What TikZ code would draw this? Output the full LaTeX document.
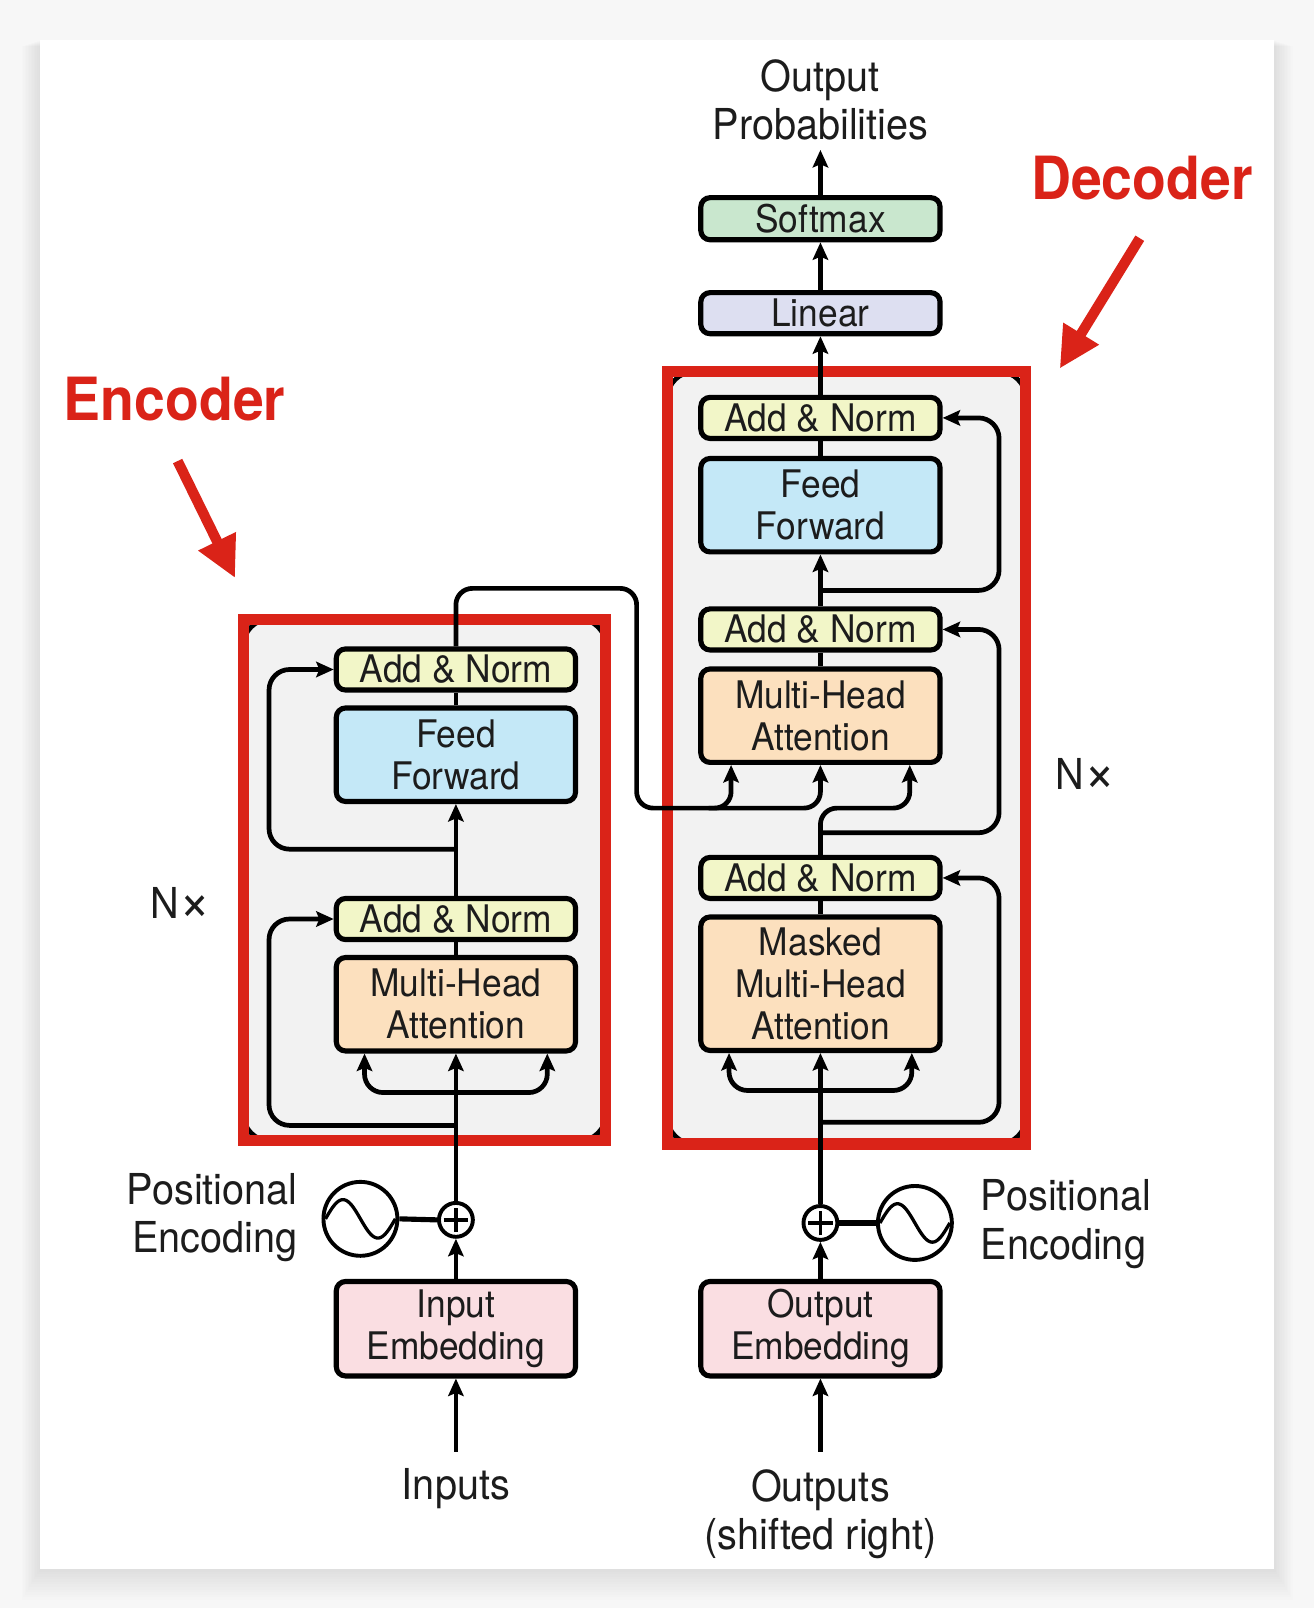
\documentclass[tikz,border=0pt]{standalone}
\usepackage{fontspec}
\setmainfont{TeX Gyre Heros}[FakeStretch=0.93]
\usetikzlibrary{arrows.meta}
\definecolor{redA}{RGB}{218,35,24}
\definecolor{anfill}{RGB}{242,246,200}
\definecolor{fffill}{RGB}{196,232,247}
\definecolor{mhafill}{RGB}{252,224,190}
\definecolor{linfill}{RGB}{221,223,241}
\definecolor{smfill}{RGB}{201,231,206}
\definecolor{embfill}{RGB}{250,222,226}
\definecolor{blockfill}{RGB}{242,242,242}
\definecolor{txt}{RGB}{28,28,28}
\definecolor{pagebg}{RGB}{247,247,247}
\begin{document}
\begin{tikzpicture}[x=1pt,y=-1pt,
  box/.style={draw=black, line width=5pt, rounded corners=9pt, minimum width=233pt, inner sep=0pt, align=center, text=txt, font=\fontsize{37}{41}\selectfont},
  anbox/.style={box, fill=anfill, minimum height=40pt},
  ffbox/.style={box, fill=fffill, minimum height=91pt},
  mhabox/.style={box, fill=mhafill, minimum height=91pt},
  embbox/.style={box, fill=embfill, minimum height=92pt},
  linbox/.style={box, fill=linfill, minimum height=40pt},
  smbox/.style={box, fill=smfill, minimum height=41pt},
  pluscirc/.style={circle, draw=black, line width=3.8pt, minimum size=33pt, inner sep=0pt, fill=white},
  pecirc/.style={circle, draw=black, line width=3.8pt, minimum size=72pt, inner sep=0pt, fill=white},
  conn/.style={line width=4.6pt, draw=black},
  arr/.style={conn, -{Stealth[length=17pt,width=15pt,inset=3pt]}},
  lbl/.style={text=txt, font=\fontsize{41.5}{47}\selectfont, align=center, inner sep=0pt},
  redlbl/.style={text=redA, font=\fontsize{58}{60}\selectfont\bfseries, inner sep=0pt},
  redarrow/.style={draw=redA, line width=10pt, -{Triangle[length=40pt,width=38pt]}},
  block/.style={draw=black, line width=4.5pt, fill=blockfill, rounded corners=26pt},
  redframe/.style={draw=redA, line width=11pt},
]
\useasboundingbox (0,0) rectangle (1280,1566);
% page and card
\fill[pagebg] (0,0) rectangle (1280,1566);
\foreach \i in {1,...,12} \fill[black,opacity=0.008] ({39-1.5*\i},{39+0.5*\i}) rectangle ({1241+1.5*\i},{1528+2.5*\i});
\fill[white] (39,39) rectangle (1241,1528);

% blocks and red frames
\draw[block] (237,603) rectangle (590,1111);
\draw[block] (650,362) rectangle (999,1114);
\draw[redframe] (237,603) rectangle (590,1111);
\draw[redframe] (650,362) rectangle (999,1114);

% encoder nodes
\node[anbox] (eAN2) at (444,652) {Add \& Norm};
\node[ffbox] (eFF) at (444,735) {Feed\\Forward};
\node[anbox] (eAN1) at (444,895) {Add \& Norm};
\node[mhabox] (eMHA) at (444,978) {Multi-Head\\Attention};
\node[embbox] (eEmb) at (444,1294) {Input\\Embedding};
\node[pluscirc] (ePlus) at (444,1188) {};
\node[pecirc] (ePE) at (351,1187) {};

% decoder nodes
\node[anbox] (dAN3) at (799,407) {Add \& Norm};
\node[ffbox] (dFF) at (799,492) {Feed\\Forward};
\node[anbox] (dAN2) at (799,613) {Add \& Norm};
\node[mhabox] (dMHA) at (799,697) {Multi-Head\\Attention};
\node[anbox] (dAN1) at (799,855) {Add \& Norm};
\node[box, fill=mhafill, minimum height=130pt] (dMM) at (799,958) {Masked\\Multi-Head\\Attention};
\node[linbox] (lin) at (799,305) {Linear};
\node[smbox] (sm) at (799,213) {Softmax};
\node[embbox] (dEmb) at (799,1294) {Output\\Embedding};
\node[pluscirc] (dPlus) at (799,1191) {};
\node[pecirc] (dPE) at (891,1191) {};

% coordinates
\coordinate (inE) at (444,1414);
\coordinate (inD) at (799,1414);
\coordinate (outP) at (799,146);
\coordinate (eSplit) at (444,1064);
\coordinate (eRes1) at (444,1096);
\coordinate (eRes2) at (444,827);
\coordinate (eTurn) at (620,573);
\coordinate (kv) at (690,787);
\coordinate (kArr) at ([xshift=32pt]dMHA.south west);
\coordinate (qArr) at ([xshift=-32pt]dMHA.south east);
\coordinate (q) at (840,787);
\coordinate (dSplit) at (799,1062);
\coordinate (dRes1) at (799,1093);
\coordinate (dRes2) at (799,811);
\coordinate (dRes3) at (799,575);

% encoder connectors
\draw[arr] (inE) -- (eEmb.south);
\draw[arr] (eEmb.north) -- (ePlus.south);
\draw[conn, line width=5pt] (ePE.east) -- (ePlus.west);
\draw[arr] (ePlus.north) -- (eMHA.south);
\draw[arr, rounded corners=18pt] (eSplit) -| ([xshift=30pt]eMHA.south west);
\draw[arr, rounded corners=18pt] (eSplit) -| ([xshift=-30pt]eMHA.south east);
\draw[arr, rounded corners=20pt] (eRes1) -- ++(-182,0) |- (eAN1.west);
\draw[conn] (eMHA.north) -- (eAN1.south);
\draw[arr] (eAN1.north) -- (eFF.south);
\draw[arr, rounded corners=20pt] (eRes2) -- ++(-182,0) |- (eAN2.west);
\draw[conn] (eFF.north) -- (eAN2.south);
\draw[arr, rounded corners=16pt] (eAN2.north) |- (eTurn) |- (kArr |- kv) -- (kArr);
\draw[arr, rounded corners=16pt] (kv) -| (dMHA.south);

% decoder connectors
\draw[arr] (inD) -- (dEmb.south);
\draw[arr] (dEmb.north) -- (dPlus.south);
\draw[conn, line width=5pt] (dPE.west) -- (dPlus.east);
\draw[arr] (dPlus.north) -- (dMM.south);
\draw[arr, rounded corners=18pt] (dSplit) -| ([xshift=30pt]dMM.south west);
\draw[arr, rounded corners=18pt] (dSplit) -| ([xshift=-30pt]dMM.south east);
\draw[arr, rounded corners=20pt] (dRes1) -- ++(174,0) |- (dAN1.east);
\draw[conn] (dMM.north) -- (dAN1.south);
\draw[arr, rounded corners=16pt] (dAN1.north) |- (q) -| (qArr);
\draw[arr, rounded corners=20pt] (dRes2) -- ++(174,0) |- (dAN2.east);
\draw[conn] (dMHA.north) -- (dAN2.south);
\draw[arr] (dAN2.north) -- (dFF.south);
\draw[arr, rounded corners=20pt] (dRes3) -- ++(174,0) |- (dAN3.east);
\draw[conn] (dFF.north) -- (dAN3.south);
\draw[arr] (dAN3.north) -- (lin.south);
\draw[arr] (lin.north) -- (sm.south);
\draw[arr] (sm.north) -- (outP);

% plus signs and sine waves
\foreach \p in {ePlus,dPlus}{
  \draw[line width=3.2pt] ([xshift=-12pt]\p.center) -- ([xshift=12pt]\p.center);
  \draw[line width=3.2pt] ([yshift=-12pt]\p.center) -- ([yshift=12pt]\p.center);
}
\foreach \p in {ePE,dPE}{
  \begin{scope}[shift={(\p.center)}]
    \draw[line width=3.2pt] plot[domain=-180:180,samples=60,smooth] ({\x/180*34},{0.55*34*sin(\x)});
  \end{scope}
}

% labels
\node[lbl] (lOut) at (799,97) {Output\\Probabilities};
\node[lbl] (lIn) at (444,1450) {Inputs};
\node[lbl] (lOutS) at (799,1475) {Outputs\\(shifted right)};
\node[lbl, anchor=east, align=right] (lPE1) at (290,1186) {Positional\\Encoding};
\node[lbl, anchor=west, align=left] (lPE2) at (955,1192) {Positional\\Encoding};
\node[lbl] (nx1) at (176,880) {N\raisebox{-2pt}{\fontsize{56}{47}\selectfont ×}};
\node[lbl] (nx2) at (1057,755) {N\raisebox{-2pt}{\fontsize{56}{47}\selectfont ×}};
\node[redlbl] (encL) at (170,389) {Encoder};
\node[redlbl] (decL) at (1112,173) {Decoder};
\coordinate (encA1) at (173,449);
\coordinate (encA2) at (229,563);
\coordinate (decA1) at (1110,232);
\coordinate (decA2) at (1032,359);
\draw[redarrow] (encA1) -- (encA2);
\draw[redarrow] (decA1) -- (decA2);
\end{tikzpicture}
\end{document}
